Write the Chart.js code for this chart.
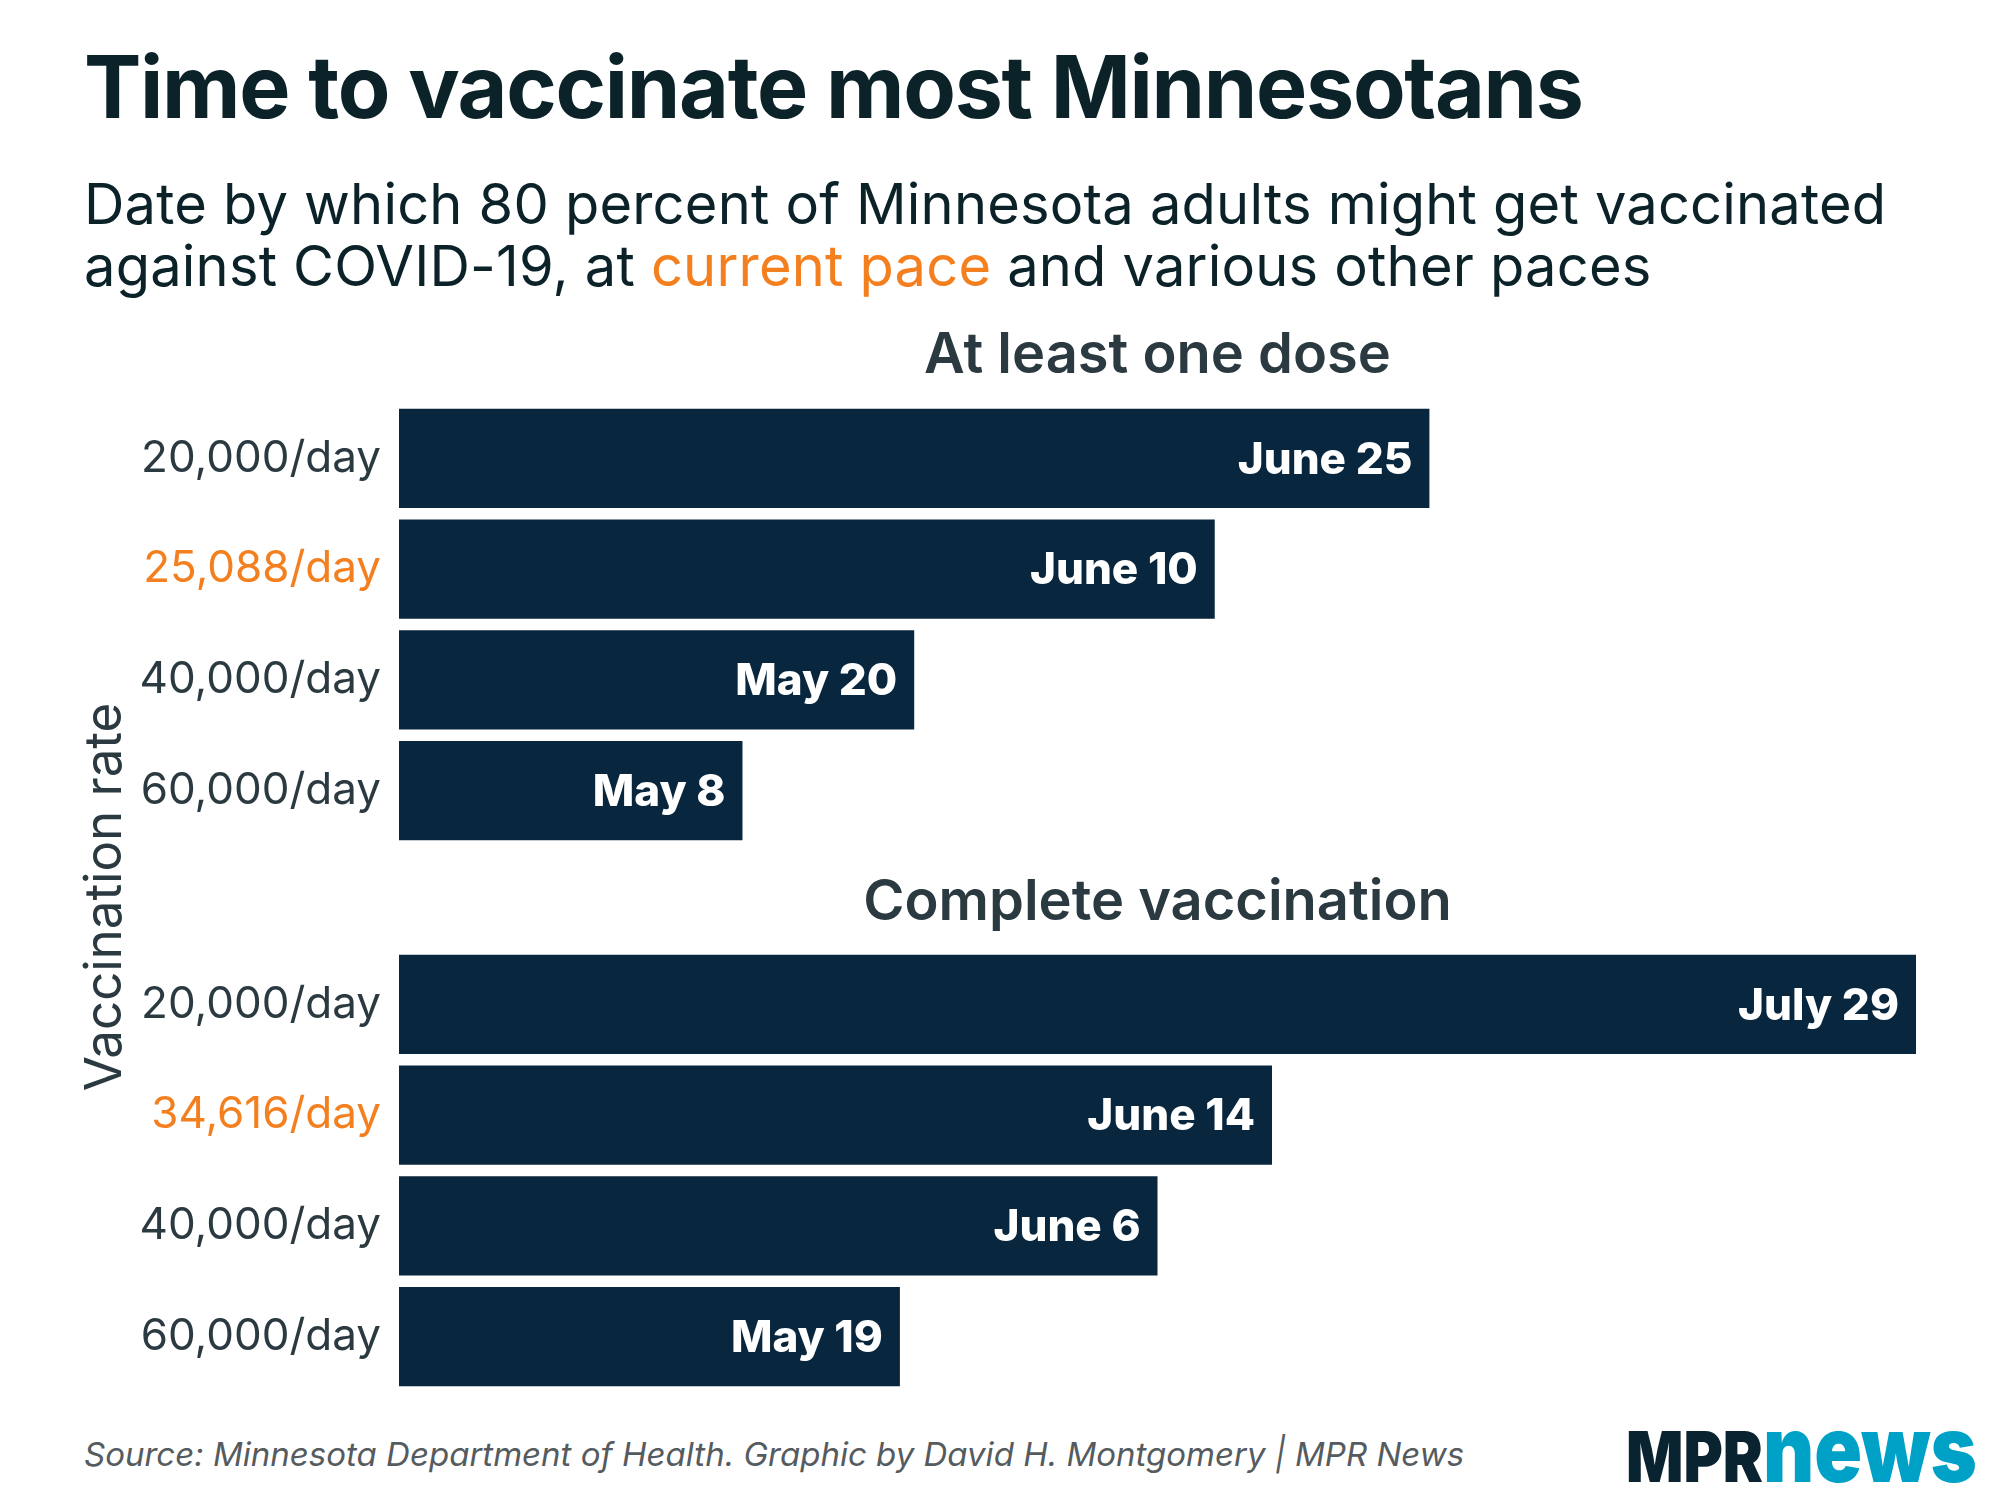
<!DOCTYPE html>
<html>
<head>
<meta charset="utf-8">
<script src="https://cdn.jsdelivr.net/npm/chart.js@4.4.1/dist/chart.umd.min.js"></script>
<style>
  html, body { margin:0; padding:0; background:#ffffff; }
  body { width:2000px; height:1500px; position:relative; overflow:hidden; font-family: Inter, "Noto Sans", sans-serif; }
  .abs { position:absolute; white-space:nowrap; }
  #title { left:84px; top:44px; font-size:86px; line-height:86px; font-weight:700; color:#0b2229; letter-spacing:-1.3px; }
  #subtitle { left:84px; top:173px; font-size:56px; line-height:62px; font-weight:400; color:#0b2229; letter-spacing:0.2px; }
  #subtitle .hl { color:#f47f1f; }
  .heading { font-size:56px; line-height:56px; font-weight:600; color:#2b3a40; text-align:center; width:1517px; left:399px; }
  #h1 { top:325px; }
  #h2 { top:872px; }
  #ytitle { font-size:51px; line-height:51px; color:#2b3a40; left:102px; top:897px; transform:translate(-50%,-50%) rotate(-90deg); }
  #source { left:84px; top:1434px; font-size:33px; line-height:40px; font-style:italic; color:#555b5e; }
  #logo { left:1626px; top:1414px; font-size:70px; line-height:70px; font-weight:900; transform-origin:0 0; }
  #logo .mpr { color:#0a2330; }
  #logo .news { color:#00a1c7; font-size:92px; }
  canvas { position:absolute; left:0; }
</style>
</head>
<body>
<div id="title" class="abs">Time to vaccinate most Minnesotans</div>
<div id="subtitle" class="abs">Date by which 80 percent of Minnesota adults might get vaccinated<br>against COVID-19, at <span class="hl">current pace</span> and various other paces</div>
<div id="h1" class="abs heading">At least one dose</div>
<div id="h2" class="abs heading">Complete vaccination</div>
<div id="ytitle" class="abs">Vaccination rate</div>
<canvas id="c1" width="1916" height="443" style="top:403px"></canvas>
<canvas id="c2" width="1916" height="443" style="top:949px"></canvas>
<div id="source" class="abs">Source: Minnesota Department of Health. Graphic by David H. Montgomery | MPR News</div>
<div id="logo" class="abs"><span class="mpr">MPR</span><span class="news">news</span></div>
<script>
// ---- data ----
const firstDoseRates   = ['20,000/day', '25,088/day', '40,000/day', '60,000/day'];
const firstDoseCurrent = [false, true, false, false];
const firstDoseDates   = ['June 25', 'June 10', 'May 20', 'May 8'];
const firstDoseDays    = [72, 57, 36, 24];      // days after April 14

const completeRates    = ['20,000/day', '34,616/day', '40,000/day', '60,000/day'];
const completeCurrent  = [false, true, false, false];
const completeDates    = ['July 29', 'June 14', 'June 6', 'May 19'];
const completeDays     = [106, 61, 53, 35];     // days after April 14

const axisMaxDays = 106;

const BAR = '#08263d';
const ORANGE = '#f47f1f';
const SLATE = '#2b3a40';

const barLabelPlugin = {
  id: 'barLabels',
  afterDatasetsDraw(chart) {
    const ctx = chart.ctx;
    const labels = chart.options.plugins.barLabels.labels;
    const meta = chart.getDatasetMeta(0);
    ctx.save();
    ctx.fillStyle = '#ffffff';
    ctx.font = '800 44px Inter';
    ctx.textAlign = 'right';
    ctx.textBaseline = 'middle';
    meta.data.forEach((bar, i) => {
      ctx.fillText(labels[i], bar.x - 17, bar.y + 2);
    });
    ctx.restore();
  }
};

function makeChart(id, rates, current, days, dateLabels) {
  return new Chart(document.getElementById(id), {
    type: 'bar',
    data: {
      labels: rates,
      datasets: [{
        data: days,
        backgroundColor: BAR,
        borderWidth: 0,
        barPercentage: 0.895,
        categoryPercentage: 1.0
      }]
    },
    options: {
      indexAxis: 'y',
      responsive: false,
      animation: false,
      devicePixelRatio: 1,
      layout: { padding: 0 },
      scales: {
        x: { display: false, min: 0, max: axisMaxDays },
        y: {
          grid: { display: false, drawTicks: false },
          border: { display: false },
          ticks: {
            padding: 18,
            font: { family: 'Inter', size: 44, weight: 400 },
            color: (c) => current[c.index] ? ORANGE : SLATE
          },
          afterFit: (s) => { s.width = 399; s.paddingTop = 0; s.paddingBottom = 0; }
        }
      },
      plugins: {
        legend: { display: false },
        tooltip: { enabled: false },
        barLabels: { labels: dateLabels }
      }
    },
    plugins: [barLabelPlugin]
  });
}

makeChart('c1', firstDoseRates, firstDoseCurrent, firstDoseDays, firstDoseDates);
makeChart('c2', completeRates, completeCurrent, completeDays, completeDates);

// fit logo width
const logo = document.getElementById('logo');
const w = logo.getBoundingClientRect().width;
logo.style.transform = 'scaleX(' + (351 / w) + ')';
</script>
</body>
</html>
